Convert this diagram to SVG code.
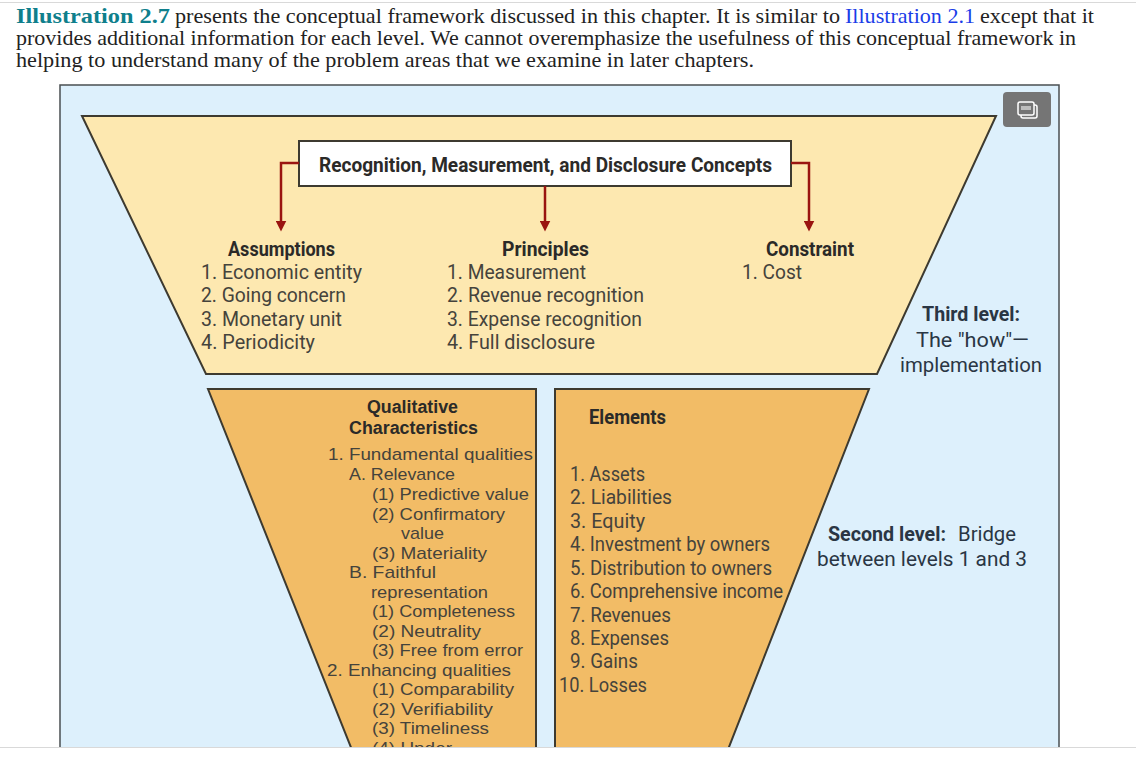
<svg xmlns="http://www.w3.org/2000/svg" width="1136" height="761" viewBox="0 0 1136 761">
<style>
.b{font-family:"Liberation Serif","DejaVu Serif",serif;font-size:21px;fill:#222}
.d{font-family:"Roboto","Liberation Sans",sans-serif;font-size:20px;fill:#45433c}
.q{font-family:"Liberation Sans",Arial,sans-serif;font-size:17px}
.h{font-family:"Roboto","Liberation Sans",sans-serif;font-size:20px;font-weight:700;fill:#2b2a28}
.qh{font-family:"Liberation Sans",Arial,sans-serif;font-size:18px}
.n{fill:#2a3644}
.s{stroke:#3d3a30;stroke-width:2}
.a{fill:none;stroke:#9a1410;stroke-width:2.5}
</style>
<defs>
<marker id="ah" markerUnits="userSpaceOnUse" markerWidth="11" markerHeight="11" refX="5" refY="5" orient="auto" viewBox="0 0 10 10"><path d="M0 0L10 5L0 10Z" fill="#9a1410"/></marker>
<clipPath id="page"><rect x="0" y="0" width="1136" height="747"/></clipPath>
</defs>
<rect width="1136" height="761" fill="#fff"/>
<rect x="0" y="2" width="1136" height="1" fill="#d9d9d9"/>
<g id="intro">
<text class="b" y="23"><tspan x="16" font-weight="700" fill="#0f7f8c" textLength="154" lengthAdjust="spacingAndGlyphs">Illustration 2.7</tspan><tspan x="175" textLength="665" lengthAdjust="spacingAndGlyphs">presents the conceptual framework discussed in this chapter. It is similar to</tspan><tspan x="845" fill="#1a3de8" textLength="130" lengthAdjust="spacingAndGlyphs">Illustration 2.1</tspan><tspan x="980" textLength="114" lengthAdjust="spacingAndGlyphs">except that it</tspan></text>
<text class="b" x="16" y="45" textLength="1060" lengthAdjust="spacingAndGlyphs">provides additional information for each level. We cannot overemphasize the usefulness of this conceptual framework in</text>
<text class="b" x="16" y="67" textLength="738" lengthAdjust="spacingAndGlyphs">helping to understand many of the problem areas that we examine in later chapters.</text>
</g>
<g clip-path="url(#page)">
<rect id="background" x="60" y="85" width="999" height="680" fill="#ddf0fc" stroke="#4a4f52" stroke-width="1.5"/>
<g id="third-level">
<path class="s" d="M82 116H996L877 374H206Z" fill="#fde8b0"/>
<g id="concepts"><rect class="s" x="299" y="141" width="492" height="45" fill="#fff"/><text class="h" x="319" y="172" textLength="453" lengthAdjust="spacingAndGlyphs">Recognition, Measurement, and Disclosure Concepts</text></g>
<g id="assumptions">
<text class="h" x="228" y="256" textLength="107" lengthAdjust="spacingAndGlyphs">Assumptions</text>
<text class="d" x="201" y="279" textLength="161" lengthAdjust="spacingAndGlyphs">1. Economic entity</text>
<text class="d" x="201" y="302" textLength="145" lengthAdjust="spacingAndGlyphs">2. Going concern</text>
<text class="d" x="201" y="326" textLength="141" lengthAdjust="spacingAndGlyphs">3. Monetary unit</text>
<text class="d" x="201" y="349" textLength="114" lengthAdjust="spacingAndGlyphs">4. Periodicity</text>
</g>
<g id="principles">
<text class="h" x="502" y="256" textLength="87" lengthAdjust="spacingAndGlyphs">Principles</text>
<text class="d" x="447" y="279" textLength="139" lengthAdjust="spacingAndGlyphs">1. Measurement</text>
<text class="d" x="447" y="302" textLength="197" lengthAdjust="spacingAndGlyphs">2. Revenue recognition</text>
<text class="d" x="447" y="326" textLength="195" lengthAdjust="spacingAndGlyphs">3. Expense recognition</text>
<text class="d" x="447" y="349" textLength="148" lengthAdjust="spacingAndGlyphs">4. Full disclosure</text>
</g>
<g id="constraint">
<text class="h" x="766" y="256" textLength="88" lengthAdjust="spacingAndGlyphs">Constraint</text>
<text class="d" x="742" y="279" textLength="60" lengthAdjust="spacingAndGlyphs">1. Cost</text>
</g>
</g>
<g id="connectors">
<path class="a" d="M299 163H281V226" marker-end="url(#ah)"/>
<path class="a" d="M545 186V226" marker-end="url(#ah)"/>
<path class="a" d="M791 163H809V226" marker-end="url(#ah)"/>
</g>
<g id="qualitative">
<path class="s" d="M208 389H536V770H360Z" fill="#f2bc66"/>
<text class="h qh" x="367" y="413" textLength="91" lengthAdjust="spacingAndGlyphs">Qualitative</text>
<text class="h qh" x="349" y="434" textLength="129" lengthAdjust="spacingAndGlyphs">Characteristics</text>
<text class="d q" x="328" y="460" textLength="205" lengthAdjust="spacingAndGlyphs">1. Fundamental qualities</text>
<text class="d q" x="349" y="480" textLength="106" lengthAdjust="spacingAndGlyphs">A. Relevance</text>
<text class="d q" x="372" y="500" textLength="157" lengthAdjust="spacingAndGlyphs">(1) Predictive value</text>
<text class="d q" x="372" y="519.5" textLength="133" lengthAdjust="spacingAndGlyphs">(2) Confirmatory</text>
<text class="d q" x="401" y="539" textLength="43" lengthAdjust="spacingAndGlyphs">value</text>
<text class="d q" x="372" y="558.5" textLength="115" lengthAdjust="spacingAndGlyphs">(3) Materiality</text>
<text class="d q" x="349" y="578" textLength="87" lengthAdjust="spacingAndGlyphs">B. Faithful</text>
<text class="d q" x="371" y="597.5" textLength="117" lengthAdjust="spacingAndGlyphs">representation</text>
<text class="d q" x="372" y="617" textLength="143" lengthAdjust="spacingAndGlyphs">(1) Completeness</text>
<text class="d q" x="372" y="636.5" textLength="109" lengthAdjust="spacingAndGlyphs">(2) Neutrality</text>
<text class="d q" x="372" y="656" textLength="151" lengthAdjust="spacingAndGlyphs">(3) Free from error</text>
<text class="d q" x="327" y="675.5" textLength="184" lengthAdjust="spacingAndGlyphs">2. Enhancing qualities</text>
<text class="d q" x="372" y="695" textLength="142" lengthAdjust="spacingAndGlyphs">(1) Comparability</text>
<text class="d q" x="372" y="714.5" textLength="121" lengthAdjust="spacingAndGlyphs">(2) Verifiability</text>
<text class="d q" x="372" y="734" textLength="117" lengthAdjust="spacingAndGlyphs">(3) Timeliness</text>
<text class="d q" x="372" y="753.5" textLength="80" lengthAdjust="spacingAndGlyphs">(4) Under</text>
</g>
<g id="elements">
<path class="s" d="M555 389H869L720 770H555Z" fill="#f2bc66"/>
<text class="h" x="589" y="424" textLength="77" lengthAdjust="spacingAndGlyphs">Elements</text>
<text class="d" x="570" y="481" textLength="75" lengthAdjust="spacingAndGlyphs">1. Assets</text>
<text class="d" x="570" y="504" textLength="102" lengthAdjust="spacingAndGlyphs">2. Liabilities</text>
<text class="d" x="570" y="528" textLength="75" lengthAdjust="spacingAndGlyphs">3. Equity</text>
<text class="d" x="570" y="551" textLength="200" lengthAdjust="spacingAndGlyphs">4. Investment by owners</text>
<text class="d" x="570" y="575" textLength="202" lengthAdjust="spacingAndGlyphs">5. Distribution to owners</text>
<text class="d" x="570" y="598" textLength="213" lengthAdjust="spacingAndGlyphs">6. Comprehensive income</text>
<text class="d" x="570" y="622" textLength="101" lengthAdjust="spacingAndGlyphs">7. Revenues</text>
<text class="d" x="570" y="645" textLength="99" lengthAdjust="spacingAndGlyphs">8. Expenses</text>
<text class="d" x="570" y="668" textLength="68" lengthAdjust="spacingAndGlyphs">9. Gains</text>
<text class="d" x="559" y="692" textLength="88" lengthAdjust="spacingAndGlyphs">10. Losses</text>
</g>
<g id="third-level-label">
<text class="h n" x="922" y="321" textLength="98" lengthAdjust="spacingAndGlyphs">Third level:</text>
<text class="d n" x="916" y="347" textLength="113" lengthAdjust="spacingAndGlyphs">The "how"—</text>
<text class="d n" x="900" y="372" textLength="142" lengthAdjust="spacingAndGlyphs">implementation</text>
</g>
<g id="second-level-label">
<text class="h n" x="828" y="541" textLength="118" lengthAdjust="spacingAndGlyphs">Second level:</text>
<text class="d n" x="958" y="541" textLength="58" lengthAdjust="spacingAndGlyphs">Bridge</text>
<text class="d n" x="817" y="566" textLength="210" lengthAdjust="spacingAndGlyphs">between levels 1 and 3</text>
</g>
<g id="expand-button">
<rect x="1003" y="92" width="48" height="35" rx="4" fill="#757575"/>
<rect x="1021" y="105" width="16" height="13" rx="2" fill="none" stroke="#fff" stroke-width="1.5"/>
<rect x="1018" y="102" width="16" height="13" rx="2" fill="#757575" stroke="#fff" stroke-width="1.5"/>
<rect x="1021" y="106" width="10" height="4" fill="#bdbdbd"/>
</g>
</g>
<rect x="0" y="747" width="1136" height="1" fill="#d9d9d9"/>
</svg>
